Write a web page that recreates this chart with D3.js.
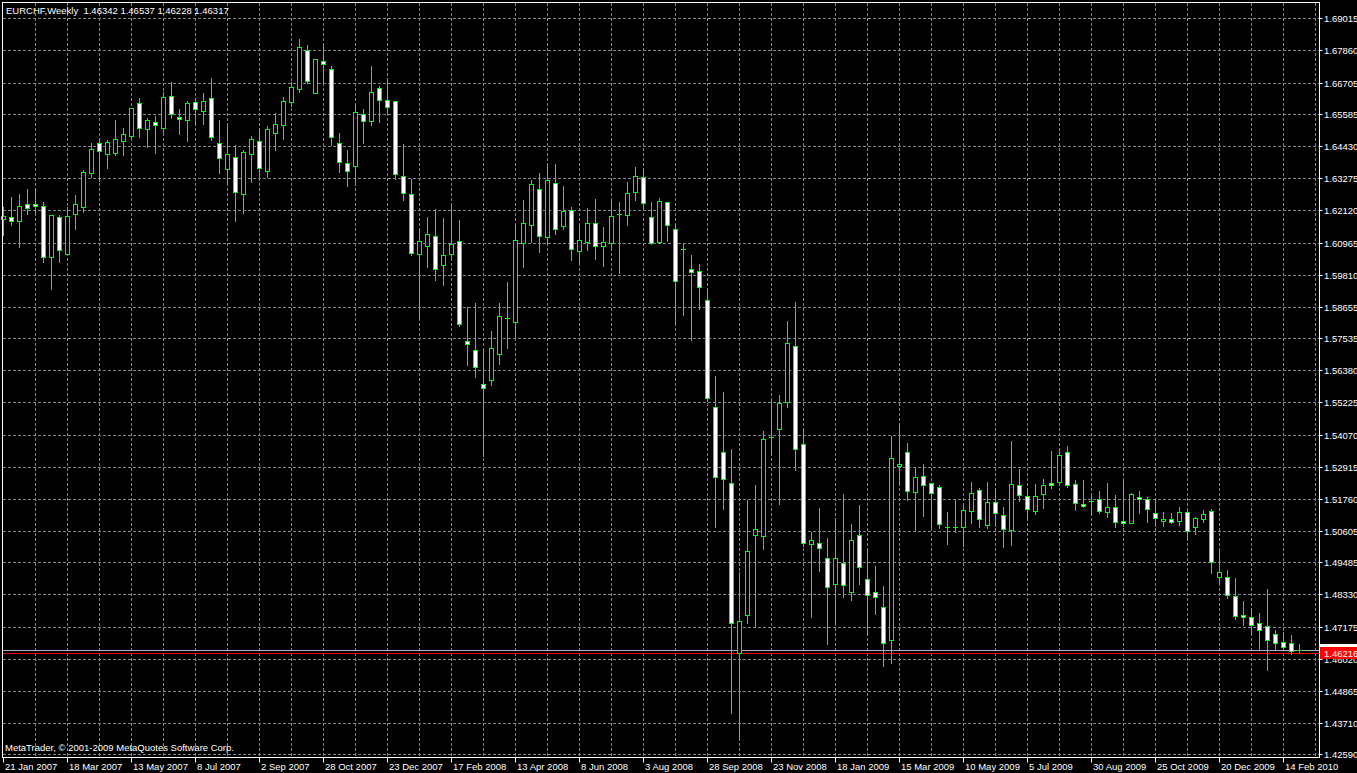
<!DOCTYPE html>
<html><head><meta charset="utf-8">
<script src="https://cdn.jsdelivr.net/npm/d3@7"></script>
<style>html,body{margin:0;padding:0;background:#000;overflow:hidden}svg{display:block}</style>
</head><body><svg id="c" width="1357" height="773"></svg>
<script>
const symbol = "EURCHF,Weekly";
const openP = [1.6180,1.6187,1.6175,1.6235,1.6235,1.6227,1.6046,1.6187,1.6057,1.6198,
1.6225,1.6345,1.6453,1.6416,1.6419,1.6460,1.6480,1.6596,1.6505,1.6528,
1.6509,1.6622,1.6546,1.6535,1.6600,1.6568,1.6614,1.6455,1.6359,1.6403,
1.6270,1.6413,1.6460,1.6352,1.6489,1.6517,1.6600,1.6647,1.6787,1.6632,
1.6747,1.6718,1.6453,1.6381,1.6370,1.6557,1.6532,1.6650,1.6607,1.6604,
1.6334,1.6270,1.6054,1.6083,1.6119,1.6015,1.6054,1.6101,1.5742,1.5710,
1.5588,1.5602,1.5695,1.5825,1.5812,1.6094,1.6158,1.6288,1.6115,1.6309,
1.6155,1.6212,1.6065,1.6097,1.6166,1.6083,1.6094,1.6200,1.6196,1.6278,
1.6332,1.6189,1.6099,1.6243,1.6146,1.6073,1.6002,1.5996,1.5891,1.5507,
1.5346,1.5234,1.4624,1.4759,1.5045,1.5042,1.5398,1.5426,1.5525,1.5724,
1.5372,1.5015,1.5017,1.4963,1.4872,1.4945,1.4840,1.5045,1.4888,1.4841,
1.4787,1.4671,1.5293,1.5344,1.5200,1.5257,1.5232,1.5218,1.5076,1.5076,
1.5076,1.5132,1.5207,1.5081,1.5164,1.5117,1.5063,1.5225,1.5186,1.5132,
1.5193,1.5232,1.5236,1.5344,1.5229,1.5157,1.5168,1.5175,1.5128,1.5146,
1.5096,1.5089,1.5182,1.5175,1.5124,1.5096,1.5103,1.5096,1.5128,1.5074,
1.5103,1.5132,1.4895,1.4895,1.4827,1.4758,1.4751,1.4730,1.4719,1.4690,
1.4661,1.4658,1.46342];
const highP = [1.6223,1.6261,1.6271,1.6289,1.6292,1.6242,1.6194,1.6194,1.6223,1.6267,
1.6357,1.6453,1.6465,1.6465,1.6536,1.6508,1.6578,1.6614,1.6542,1.6550,
1.6637,1.6672,1.6575,1.6604,1.6607,1.6633,1.6686,1.6536,1.6514,1.6446,
1.6428,1.6478,1.6503,1.6514,1.6560,1.6618,1.6672,1.6826,1.6805,1.6754,
1.6808,1.6729,1.6489,1.6428,1.6593,1.6575,1.6729,1.6657,1.6686,1.6604,
1.6449,1.6324,1.6144,1.6187,1.6216,1.6184,1.6231,1.6177,1.5866,1.5878,
1.5710,1.5778,1.5878,1.5954,1.6163,1.6248,1.6320,1.6345,1.6377,1.6377,
1.6298,1.6223,1.6162,1.6219,1.6252,1.6152,1.6245,1.6241,1.6314,1.6366,
1.6354,1.6241,1.6255,1.6243,1.6162,1.6093,1.6053,1.6020,1.5927,1.5616,
1.5558,1.5354,1.4912,1.5173,1.5226,1.5419,1.5536,1.5548,1.5814,1.5882,
1.5428,1.5057,1.5142,1.5036,1.5108,1.5194,1.5086,1.5154,1.4996,1.4935,
1.4864,1.5402,1.5450,1.5377,1.5286,1.5300,1.5232,1.5225,1.5129,1.5175,
1.5150,1.5236,1.5214,1.5236,1.5214,1.5146,1.5383,1.5282,1.5214,1.5229,
1.5247,1.5347,1.5354,1.5365,1.5243,1.5243,1.5189,1.5203,1.5232,1.5189,
1.5239,1.5196,1.5203,1.5182,1.5175,1.5128,1.5124,1.5146,1.5132,1.5110,
1.5135,1.5139,1.4988,1.4920,1.4891,1.4809,1.4783,1.4765,1.4852,1.4704,
1.4697,1.4686,1.46537];
const lowP = [1.6125,1.6160,1.6082,1.6200,1.6196,1.6027,1.5931,1.6027,1.6057,1.6145,
1.6207,1.6331,1.6319,1.6364,1.6412,1.6411,1.6476,1.6474,1.6441,1.6418,
1.6491,1.6542,1.6487,1.6462,1.6520,1.6523,1.6466,1.6347,1.6306,1.6175,
1.6204,1.6315,1.6331,1.6331,1.6430,1.6467,1.6586,1.6636,1.6668,1.6632,
1.6668,1.6448,1.6349,1.6298,1.6302,1.6453,1.6520,1.6528,1.6564,1.6324,
1.6248,1.6051,1.5823,1.6008,1.5961,1.5943,1.6044,1.5798,1.5658,1.5615,
1.5331,1.5586,1.5662,1.5719,1.5759,1.6010,1.6097,1.6064,1.6090,1.6128,
1.6144,1.6035,1.6026,1.6071,1.6038,1.6011,1.6068,1.5986,1.6160,1.6249,
1.6219,1.6091,1.6094,1.6103,1.5807,1.5836,1.5747,1.5858,1.5527,1.5075,
1.5139,1.4408,1.4313,1.4732,1.4715,1.4997,1.5335,1.5159,1.5507,1.5281,
1.5008,1.4753,1.4918,1.4655,1.4732,1.4825,1.4814,1.4871,1.4689,1.4763,
1.4577,1.4588,1.5227,1.5173,1.5063,1.5116,1.5076,1.5073,1.5015,1.5058,
1.5008,1.5091,1.5074,1.5073,1.5080,1.5005,1.5012,1.5170,1.5102,1.5121,
1.5142,1.5214,1.5225,1.5220,1.5135,1.5146,1.5119,1.5124,1.5110,1.5074,
1.5078,1.5089,1.5124,1.5092,1.5078,1.5078,1.5089,1.5081,1.5029,1.5049,
1.5094,1.4909,1.4877,1.4819,1.4744,1.4722,1.4690,1.4636,1.4561,1.4636,
1.4640,1.4618,1.46228];
const closeP = [1.6192,1.6175,1.6228,1.6219,1.6227,1.6046,1.6194,1.6071,1.6191,1.6234,
1.6349,1.6431,1.6424,1.6456,1.6467,1.6485,1.6578,1.6509,1.6535,1.6517,
1.6618,1.6557,1.6539,1.6596,1.6575,1.6604,1.6474,1.6399,1.6413,1.6277,
1.6420,1.6467,1.6363,1.6503,1.6521,1.6604,1.6654,1.6797,1.6675,1.6754,
1.6736,1.6474,1.6385,1.6352,1.6564,1.6532,1.6636,1.6607,1.6582,1.6342,
1.6273,1.6058,1.6101,1.6126,1.6000,1.6051,1.6090,1.5803,1.5731,1.5649,
1.5573,1.5717,1.5832,1.5825,1.6105,1.6166,1.6306,1.6119,1.6320,1.6144,
1.6209,1.6072,1.6105,1.6166,1.6083,1.6100,1.6193,1.6200,1.6276,1.6336,
1.6239,1.6096,1.6247,1.6160,1.5957,1.6073,1.5989,1.5935,1.5539,1.5255,
1.5249,1.4732,1.4737,1.4990,1.5067,1.5390,1.5398,1.5519,1.5735,1.5356,
1.5019,1.5027,1.5001,1.4859,1.4963,1.4866,1.5027,1.4930,1.4830,1.4823,
1.4658,1.5322,1.5301,1.5203,1.5254,1.5225,1.5196,1.5085,1.5076,1.5076,
1.5135,1.5196,1.5103,1.5164,1.5124,1.5069,1.5229,1.5189,1.5139,1.5186,
1.5225,1.5225,1.5333,1.5225,1.5160,1.5150,1.5168,1.5132,1.5146,1.5092,
1.5089,1.5193,1.5175,1.5139,1.5106,1.5103,1.5092,1.5128,1.5060,1.5106,
1.5121,1.4950,1.4913,1.4830,1.4755,1.4751,1.4722,1.4704,1.4668,1.4658,
1.4643,1.4629,1.46317];
const priceTicks = [1.69015,1.67860,1.66705,1.65585,1.64430,1.63275,1.62120,1.60965,1.59810,1.58655,
1.57535,1.56380,1.55225,1.54070,1.52915,1.51760,1.50605,1.49485,1.48330,1.47175,
1.46020,1.44865,1.43710,1.42590];
const dateLabels = ["21 Jan 2007","18 Mar 2007","13 May 2007","8 Jul 2007","2 Sep 2007","28 Oct 2007",
"23 Dec 2007","17 Feb 2008","13 Apr 2008","8 Jun 2008","3 Aug 2008","28 Sep 2008","23 Nov 2008",
"18 Jan 2009","15 Mar 2009","10 May 2009","5 Jul 2009","30 Aug 2009","25 Oct 2009","20 Dec 2009","14 Feb 2010"];
const dateLabelStep = 8;   // bars between date labels
const gridStep = 4;        // bars between vertical grid lines
const bidPrice = 1.46216;
const askPrice = 1.46330;
const bidLabel = "1.46216";
const copyright = "MetaTrader, \u00A9 2001-2009 MetaQuotes Software Corp.";

const W = 1357, H = 773;
const L = 2.5, T = 2.5, R = 1319.5, B = 757.5;
const FONT = "'Liberation Sans', Arial, sans-serif";
const GREEN = "#00ff00", GRID = "#778899";

const svg = d3.select("#c");
svg.append("rect").attr("width", W).attr("height", H).attr("fill", "#000");

const n = openP.length;
const x = d3.scaleLinear().domain([0, 1]).range([3.5, 11.5]);
const y = d3.scaleLinear().domain([1.42590, 1.69015]).range([754.3, 18.3]);
const py = v => Math.round(y(v));

// grid
const gGrid = svg.append("g").attr("stroke", GRID).attr("stroke-width", 1).attr("stroke-dasharray", "3,2");
const vIdx = d3.range(gridStep, 400, gridStep).filter(i => x(i) < R - 1);
gGrid.selectAll("line.v").data(vIdx).join("line")
  .attr("x1", d => x(d)).attr("x2", d => x(d)).attr("y1", T + 0.5).attr("y2", B);
gGrid.selectAll("line.h").data(priceTicks).join("line")
  .attr("x1", L + 0.5).attr("x2", R).attr("y1", d => py(d) + 0.5).attr("y2", d => py(d) + 0.5);

// bid / ask lines
svg.append("line").attr("x1", L).attr("x2", R).attr("y1", py(askPrice) + 0.5).attr("y2", py(askPrice) + 0.5)
  .attr("stroke", "#a9b0b8");
svg.append("line").attr("x1", L).attr("x2", R).attr("y1", py(bidPrice) + 0.5).attr("y2", py(bidPrice) + 0.5)
  .attr("stroke", "#ff0000");

// candles
const bars = d3.range(n).map(i => ({ i, o: openP[i], h: highP[i], l: lowP[i], c: closeP[i] }));
const gC = svg.append("g");
gC.selectAll("line.wick").data(bars).join("line")
  .attr("x1", d => x(d.i)).attr("x2", d => x(d.i))
  .attr("y1", d => py(d.h)).attr("y2", d => py(d.l) + 1)
  .attr("stroke", GREEN).attr("stroke-width", 1);
const bodies = bars.map(d => {
  const t = py(Math.max(d.o, d.c)), b = py(Math.min(d.o, d.c));
  return Object.assign({ t, b }, d);
});
gC.selectAll("rect.body").data(bodies.filter(d => d.b - d.t >= 1)).join("rect")
  .attr("x", d => x(d.i) - 2).attr("y", d => d.t + 0.5)
  .attr("width", 4).attr("height", d => d.b - d.t)
  .attr("fill", d => d.c > d.o ? "#000" : "#fff")
  .attr("stroke", GREEN).attr("stroke-width", 1);
gC.selectAll("line.doji").data(bodies.filter(d => d.b - d.t < 1)).join("line")
  .attr("x1", d => x(d.i) - 2.5).attr("x2", d => x(d.i) + 2.5)
  .attr("y1", d => d.t + 0.5).attr("y2", d => d.t + 0.5)
  .attr("stroke", GREEN).attr("stroke-width", 1);

// frame
svg.append("rect").attr("x", L).attr("y", T).attr("width", R - L).attr("height", B - T)
  .attr("fill", "none").attr("stroke", "#fff").attr("stroke-width", 1);

// price axis
const gP = svg.append("g");
gP.selectAll("line").data(priceTicks).join("line")
  .attr("x1", R).attr("x2", R + 3).attr("y1", d => py(d) + 0.5).attr("y2", d => py(d) + 0.5)
  .attr("stroke", "#fff");
gP.selectAll("text").data(priceTicks).join("text")
  .attr("x", 1324).attr("y", d => py(d) + 4)
  .attr("fill", "#fff").attr("font-family", FONT).attr("font-size", "9.5px")
  .text(d => d.toFixed(5));

// ask / bid labels
svg.append("rect").attr("x", R + 0.5).attr("y", py(askPrice) - 6).attr("width", W - R).attr("height", 12).attr("fill", "#fff");
svg.append("rect").attr("x", R + 0.5).attr("y", py(bidPrice) - 6).attr("width", W - R).attr("height", 12).attr("fill", "#ff0000");
svg.append("text").attr("x", 1324).attr("y", py(bidPrice) + 4)
  .attr("fill", "#fff").attr("font-family", FONT).attr("font-size", "9.5px").text(bidLabel);

// date axis
const gD = svg.append("g");
const dIdx = dateLabels.map((s, k) => ({ s, i: k * dateLabelStep }));
gD.selectAll("line").data(dIdx).join("line")
  .attr("x1", d => Math.max(x(d.i), L)).attr("x2", d => Math.max(x(d.i), L))
  .attr("y1", B).attr("y2", B + 5).attr("stroke", "#fff");
gD.selectAll("text").data(dIdx).join("text")
  .attr("x", d => x(d.i) + 1.5).attr("y", 770)
  .attr("fill", "#fff").attr("font-family", FONT).attr("font-size", "9.5px")
  .text(d => d.s);

// title
const last = n - 1;
svg.append("text").attr("x", 6).attr("y", 14)
  .attr("fill", "#fff").attr("font-family", FONT).attr("font-size", "9.5px")
  .attr("xml:space", "preserve")
  .text(symbol + "  " + [openP[last], highP[last], lowP[last], closeP[last]].map(v => v.toFixed(5)).join(" "));
svg.append("text").attr("x", 5).attr("y", 751)
  .attr("fill", "#fff").attr("font-family", FONT).attr("font-size", "9.5px")
  .text(copyright);
</script></body></html>
